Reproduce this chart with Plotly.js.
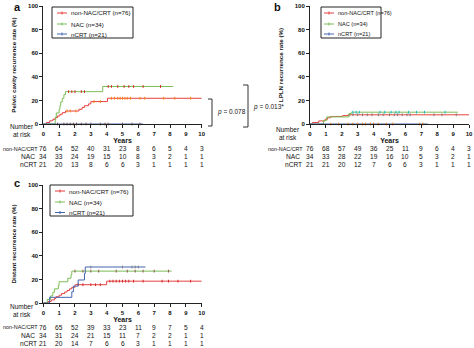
<!DOCTYPE html>
<html><head><meta charset="utf-8">
<script src="https://cdn.plot.ly/plotly-3.0.1.min.js"></script>
<style>html,body{margin:0;padding:0;background:#fff}#chart{width:474px;height:348px}</style>
</head><body><div id="chart"></div>
<script>
// ---------- data ----------
const years = [0,1,2,3,4,5,6,7,8,9,10];
const yTicks = [0,20,40,60,80,100];
const groupNames = ['non-NAC/CRT (n=76)','NAC (n=34)','nCRT (n=21)'];
const riskLabels = ['non-NAC/CRT','NAC','nCRT'];
const colors = ['#e5403f','#7dbd56','#4566b0'];

// Panel a: pelvic cavity recurrence (step times / cumulative %)
const aRedT = [0.2,0.4,0.6,0.75,0.9,1.05,1.2,1.4,2.25,2.45,2.6,2.85,3.0,4.05];
const aRedY = [1.3,2.7,4,5.4,6.8,8.2,9.6,11,12.5,14,15.5,17,19,21.8];
const aRedEnd = 10;
const aRedCens = [1.5,1.7,2.05,3.2,3.6,4.3,4.5,4.7,4.85,5.0,5.15,5.3,5.5,6.1,6.4,7.6,8.3,9.3];
const aGrnT = [0.75,0.78,0.82,1.0,1.05,1.1,1.2,1.3,1.4,3.75];
const aGrnY = [3,6,9.4,12.5,15.6,18.7,21.8,24.9,27.4,31.8];
const aGrnEnd = 8.2;
const aGrnCens = [1.6,1.8,2.0,2.4,2.6,4.1,4.3,4.7,5.1,5.4,5.7,6.3,7.4];
const aBluT = [];
const aBluY = [];
const aBluEnd = 6.3;
const aBluCens = [0.9,1.3,1.5,1.7,1.9,2.1,2.4,2.7,3.0,3.6,3.9,4.1,5.0,5.6,6.1];
const aRiskNon = [76,64,52,40,31,23,8,6,5,4,3];
const aRiskNAC = [34,33,24,19,15,10,8,3,2,1,1];
const aRiskCRT = [21,20,13,8,6,6,3,1,1,1,1];

// Panel b: LPLN recurrence
const bRedT = [0.15,0.55,0.95,1.1,1.3,2.05,2.4];
const bRedY = [1.3,2.6,4,5.3,6.4,7.1,7.8];
const bRedEnd = 10;
const bRedCens = [2.5,2.7,3.0,3.3,3.6,3.9,4.3,4.6,5.0,5.3,5.5,5.8,6.1,6.3,7.8,8.3,9.2];
const bGrnT = [0.85,1.05,2.45,2.6];
const bGrnY = [3,6,8.9,10];
const bGrnEnd = 9.3;
const bGrnCens = [2.7,2.9,3.1,4.4,4.7,5.1,5.4,5.6,6.2,6.7,7.2,8.5];
const bBluT = [];
const bBluY = [];
const bBluEnd = 7.4;
const bBluCens = [1.3,1.8,2.4,2.7,3.0,3.3,3.5,3.8,4.0,4.3,4.8,5.2,6.9,7.1];
const bRiskNon = [76,68,57,49,36,25,11,9,6,4,3];
const bRiskNAC = [34,33,28,22,19,16,10,5,3,2,1];
const bRiskCRT = [21,21,20,12,7,6,6,3,1,1,1];

// Panel c: distant recurrence
const cRedT = [0.3,0.5,0.7,0.8,1.0,1.15,1.35,1.5,1.65,1.8,2.0,4.0];
const cRedY = [1.3,2.6,3.9,5.3,6.6,8,9.3,10.6,12,13.3,15.5,18.5];
const cRedEnd = 10;
const cRedCens = [2.2,2.5,3.0,3.3,3.6,4.2,4.4,4.6,4.8,5.0,5.2,5.4,5.7,6.3,7.5,7.9,8.5,9.3];
const cGrnT = [0.25,0.45,0.6,0.7,0.95,1.0,1.55,1.75,1.8];
const cGrnY = [3,6,9,12,15,18,21,24,27];
const cGrnEnd = 8.1;
const cGrnCens = [2.0,2.5,3.0,3.5,4.6,5.3,5.8,6.3,7.0,7.9];
const cBluT = [0.4,1.8,1.9,2.2,2.6,2.65];
const cBluY = [4.8,9.5,14.3,19.5,25,30.5];
const cBluEnd = 6.45;
const cBluCens = [3.0,5.0,5.6,5.8,6.0];
const cRiskNon = [76,65,52,39,33,23,11,9,7,5,4];
const cRiskNAC = [34,31,24,21,15,11,7,2,2,1,1];
const cRiskCRT = [21,20,14,7,6,6,3,1,1,1,1];

// ---------- build ----------
const W = 474, H = 348;
const FONT = '"Liberation Sans",Arial,Helvetica,sans-serif';
const px = v => v / W;
const py = v => 1 - v / H;

function stepAt(T, Y, t) {
  let v = 0;
  for (let i = 0; i < T.length; i++) if (T[i] <= t) v = Y[i];
  return v;
}
const traces = [];
function addSeries(T, Y, end, cens, color, xa, ya) {
  traces.push({
    x: [0].concat(T, [end]), y: [0].concat(Y, [Y.length ? Y[Y.length-1] : 0]),
    xaxis: xa, yaxis: ya, mode: 'lines', line: {shape: 'hv', color: color, width: 1},
    showlegend: false, hoverinfo: 'skip', cliponaxis: false
  });
  traces.push({
    x: cens, y: cens.map(t => stepAt(T, Y, t)), xaxis: xa, yaxis: ya, mode: 'markers',
    marker: {symbol: 'line-ns-open', size: 2, line: {color: color, width: 1}},
    showlegend: false, hoverinfo: 'skip', cliponaxis: false
  });
}
addSeries(aRedT, aRedY, aRedEnd, aRedCens, colors[0], 'x', 'y');
addSeries(aGrnT, aGrnY, aGrnEnd, aGrnCens, colors[1], 'x', 'y');
addSeries(aBluT, aBluY, aBluEnd, aBluCens, colors[2], 'x', 'y');
addSeries(bRedT, bRedY, bRedEnd, bRedCens, colors[0], 'x2', 'y2');
addSeries(bGrnT, bGrnY, bGrnEnd, bGrnCens, colors[1], 'x2', 'y2');
addSeries(bBluT, bBluY, bBluEnd, bBluCens, colors[2], 'x2', 'y2');
addSeries(cRedT, cRedY, cRedEnd, cRedCens, colors[0], 'x3', 'y3');
addSeries(cGrnT, cGrnY, cGrnEnd, cGrnCens, colors[1], 'x3', 'y3');
addSeries(cBluT, cBluY, cBluEnd, cBluCens, colors[2], 'x3', 'y3');

const tickFont = {family: FONT, size: 6, color: '#111', weight: 'bold'};
function xAxis(dom, anchor, standoff) {
  return {domain: dom, anchor: anchor, range: [0, 10], tickvals: years, ticktext: years.map(String),
    showgrid: false, zeroline: false, showline: true, linecolor: '#222', linewidth: 1,
    ticks: 'outside', ticklen: 3, tickwidth: 1, tickcolor: '#222', tickfont: tickFont, ticklabelstandoff: 1,
    title: {text: 'Years', font: {family: FONT, size: 7, color: '#111', weight: 'bold'}, standoff: standoff},
    fixedrange: true};
}
function yAxis(dom, anchor, title) {
  return {domain: dom, anchor: anchor, range: [0, 100], tickvals: yTicks,
    showgrid: false, zeroline: false, showline: true, linecolor: '#222', linewidth: 1,
    ticks: 'outside', ticklen: 3, tickwidth: 1, tickcolor: '#222', tickfont: tickFont,
    title: {text: title, font: {family: FONT, size: 6.2, color: '#111', weight: 'bold'}, standoff: 10},
    fixedrange: true};
}

const shapes = [], annotations = [];
function legendBox(x0, y0, x1, rowOff, lineX0, lineX1, textX, fsize) {
  shapes.push({type: 'rect', xref: 'paper', yref: 'paper', x0: px(x0), x1: px(x1), y0: py(y0), y1: py(y0 + 31),
    line: {color: '#222', width: 1}, fillcolor: 'rgba(0,0,0,0)'});
  for (let i = 0; i < 3; i++) {
    const yy = y0 + rowOff[i];
    shapes.push({type: 'line', xref: 'paper', yref: 'paper', x0: px(lineX0), x1: px(lineX1), y0: py(yy), y1: py(yy),
      line: {color: colors[i], width: 1}});
    const xm = (lineX0 + lineX1) / 2;
    shapes.push({type: 'line', xref: 'paper', yref: 'paper', x0: px(xm), x1: px(xm), y0: py(yy - 1.5), y1: py(yy + 1.5),
      line: {color: colors[i], width: 1}});
    annotations.push({xref: 'paper', yref: 'paper', x: px(textX), y: py(yy), xanchor: 'left', yanchor: 'middle',
      text: groupNames[i], showarrow: false, font: {family: FONT, size: fsize, color: '#111'}});
  }
}
legendBox(52, 7, 133, [6, 17, 27], 57, 67, 69, 6.2);
legendBox(321, 7, 381, [6, 17, 27], 324, 334, 336, 5.6);
legendBox(50, 185, 133, [6, 17, 27.5], 55, 65, 67, 6.2);

function riskTable(xa, rowsY, labelX, labelAnchor, labelSizes, data, nY, nX) {
  annotations.push({xref: 'paper', yref: 'paper', x: px(nX), y: py(nY), xanchor: 'center', yanchor: 'middle',
    text: 'Number<br>at risk', showarrow: false, align: 'center',
    font: {family: FONT, size: 6.5, color: '#111'}});
  for (let r = 0; r < 3; r++) {
    annotations.push({xref: 'paper', yref: 'paper', x: px(labelX[r]), y: py(rowsY[r]), xanchor: labelAnchor[r], yanchor: 'middle',
      text: riskLabels[r], showarrow: false, borderpad: 0, font: {family: FONT, size: labelSizes[r], color: '#111'}});
    data[r].forEach((v, i) => {
      annotations.push({xref: xa, yref: 'paper', x: years[i], y: py(rowsY[r]), xanchor: 'center', yanchor: 'middle',
        text: String(v), showarrow: false, font: {family: FONT, size: 6.6, color: '#111'}});
    });
  }
}
riskTable('x', [149, 157, 164.5], [38.5, 28, 28], ['right', 'center', 'center'], [5.4, 6.6, 6.6],
  [aRiskNon, aRiskNAC, aRiskCRT], 131, 22);
riskTable('x2', [149, 157, 164.5], [304, 293, 293], ['right', 'center', 'center'], [5.4, 6.6, 6.6],
  [bRiskNon, bRiskNAC, bRiskCRT], 133.5, 288);
riskTable('x3', [327, 335, 343], [38.5, 28, 28], ['right', 'center', 'center'], [5.4, 6.6, 6.6],
  [cRiskNon, cRiskNAC, cRiskCRT], 310, 22);

// panel letters
[['a', 17, 7], ['b', 277, 7], ['c', 17, 183]].forEach(([t, x, y]) => annotations.push({
  xref: 'paper', yref: 'paper', x: px(x), y: py(y), xanchor: 'center', yanchor: 'middle', text: t, showarrow: false,
  font: {family: FONT, size: 11, color: '#111', weight: 'bold'}}));

// p-value brackets
function bracket(x, yTop, yBot, stub, label, ly) {
  [[x - stub, x, yTop, yTop], [x, x, yTop, yBot], [x - stub, x, yBot, yBot]].forEach(([a, b, c, d]) =>
    shapes.push({type: 'line', xref: 'paper', yref: 'paper', x0: px(a), x1: px(b), y0: py(c), y1: py(d),
      line: {color: '#333', width: 1}}));
  annotations.push({xref: 'paper', yref: 'paper', x: px(x + 2.5), y: py(ly), xanchor: 'left', yanchor: 'middle',
    text: label, showarrow: false, font: {family: FONT, size: 6.5, color: '#111'}});
}
bracket(212, 99, 126, 4, '<i>p</i> = 0.078', 112);
bracket(248, 85, 127, 5, '<i>p</i> = 0.013*', 107);

const layout = {
  width: W, height: H, margin: {l: 0, r: 0, t: 0, b: 0}, paper_bgcolor: '#fff', plot_bgcolor: 'rgba(0,0,0,0)',
  showlegend: false, font: {family: FONT, color: '#111'},
  xaxis: xAxis([px(43.3), px(201.7)], 'y', 1),
  yaxis: yAxis([py(124), py(6)], 'x', 'Pelvic cavity recurrence rate (%)'),
  xaxis2: xAxis([px(310), px(469)], 'y2', 1),
  yaxis2: yAxis([py(124), py(6)], 'x2', 'LPLN recurrence rate (%)'),
  xaxis3: xAxis([px(43.3), px(201.7)], 'y3', 1),
  yaxis3: yAxis([py(303), py(185)], 'x3', 'Distant recurrence rate (%)'),
  shapes: shapes, annotations: annotations
};
Plotly.newPlot('chart', traces, layout, {staticPlot: true, displayModeBar: false});
</script></body></html>
